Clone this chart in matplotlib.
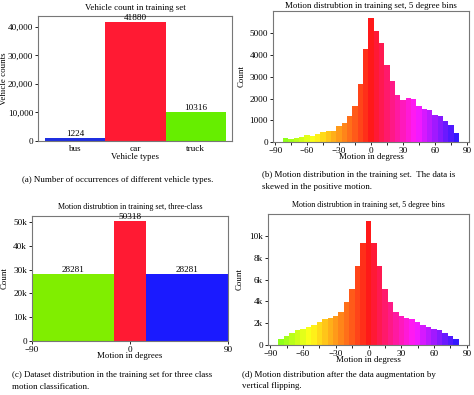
import matplotlib
matplotlib.use("Agg")
import matplotlib.pyplot as plt
import numpy as np
import colorsys

plt.rcParams['font.family'] = ['Liberation Serif', 'DejaVu Serif']

# ---- data ----
vehicle_types = ["bus", "car", "truck"]
vehicle_counts = [1224, 41880, 10316]
vehicle_colors = ["#1f2fe0", "#ff1a33", "#66ee00"]

bin_centers = [-80, -75, -70, -65, -60, -55, -50, -45, -40, -35, -30, -25, -20, -15, -10, -5,
               0, 5, 10, 15, 20, 25, 30, 35, 40, 45, 50, 55, 60, 65, 70, 75, 80]
motion_counts = [200, 140, 200, 230, 320, 290, 350, 450, 490, 490, 720, 880, 1180, 1650, 2650, 4260,
                 5700, 5120, 4540, 3540, 2820, 2180, 1920, 2010, 1970, 1650, 1510, 1490, 1230, 1200, 950, 770, 415]
augmented_counts = [560, 870, 1100, 1350, 1500, 1660, 1810, 2090, 2420, 2450, 2640, 3040, 3900, 5180, 7240, 9390,
                    11400, 9390, 7240, 5180, 3900, 3040, 2640, 2450, 2420, 2090, 1810, 1660, 1500, 1350, 1100, 870, 560]

three_class_edges = [-90, -15, 15, 90]
three_class_counts = [28281, 50318, 28281]
three_class_colors = ["#80ee00", "#ff1a33", "#1a1aff"]

W, H = 474, 395
fig = plt.figure(figsize=(W / 100, H / 100), dpi=100)


def ax_px(x0, y0, x1, y1):
    return fig.add_axes([x0 / W, 1 - y1 / H, (x1 - x0) / W, (y1 - y0) / H])


def angle_color(a):
    if a <= 0:
        h = (-a) * 1.12 / 360.0
    else:
        h = (360 - a * 120 / 85) / 360.0
    return colorsys.hsv_to_rgb(h % 1.0, 0.9, 1.0)


def style(ax):
    for s in ax.spines.values():
        s.set_color("#777777")
        s.set_linewidth(0.8)
    ax.tick_params(labelsize=6.6, length=2, width=0.6, pad=1.5)


TFS = 6.4
CFS = 6.4

# ---- (a) ----
ax = ax_px(38, 16, 232, 141)
x = np.arange(len(vehicle_types))
ax.bar(x, vehicle_counts, width=1.0, color=vehicle_colors)
for xi, v in zip(x, vehicle_counts):
    ax.text(xi, v, str(v), ha="center", va="bottom", fontsize=6.6, linespacing=1)
ax.set_xlim(-0.615, 2.6)
ax.set_ylim(0, 43850)
ax.set_xticks(x)
ax.set_xticklabels(vehicle_types)
ax.set_yticks([0, 10000, 20000, 30000, 40000])
ax.set_yticklabels(["0", "10,000", "20,000", "30,000", "40,000"])
style(ax)
ax.tick_params(axis="x", length=0, pad=3)
ax.set_title("Vehicle count in training set", fontsize=TFS, pad=4.5)
ax.set_ylabel("Vehicle counts", fontsize=TFS, labelpad=0)
ax.set_xlabel("Vehicle types", fontsize=TFS, labelpad=0)
fig.text(118 / W, 1 - 180 / H, "(a) Number of occurrences of different vehicle types.",
         ha="center", va="center", fontsize=CFS)

# ---- (b) ----
ax = ax_px(273, 11, 469, 142)
ax.bar(bin_centers, motion_counts, width=5, color=[angle_color(a) for a in bin_centers])
ax.set_xlim(-92, 92)
ax.set_ylim(0, 6030)
ax.set_xticks([-90, -60, -30, 0, 30, 60, 90])
ax.set_xticks([-75, -45, -15, 15, 45, 75], minor=True)
ax.set_yticks([0, 1000, 2000, 3000, 4000, 5000])
style(ax)
ax.tick_params(which="minor", length=2, width=0.6)
ax.set_title("Motion distrubtion in training set, 5 degree bins", fontsize=TFS, pad=2)
ax.set_ylabel("Count", fontsize=TFS, labelpad=3)
ax.set_xlabel("Motion in degress", fontsize=TFS, labelpad=-1)
fig.text(262 / W, 1 - 175 / H, "(b) Motion distribution in the training set.  The data is",
         ha="left", va="center", fontsize=CFS)
fig.text(262 / W, 1 - 187 / H, "skewed in the positive motion.",
         ha="left", va="center", fontsize=CFS)

# ---- (c) ----
ax = ax_px(32, 216, 228, 341)
lefts = three_class_edges[:-1]
widths = np.diff(three_class_edges)
ax.bar(lefts, three_class_counts, width=widths, align="edge", color=three_class_colors)
for l, w, v in zip(lefts, widths, three_class_counts):
    ax.text(l + w / 2, v, str(v), ha="center", va="bottom", fontsize=6.6)
ax.set_xlim(-90, 90)
ax.set_ylim(0, 52500)
ax.set_xticks([-90, 0, 90])
ax.set_yticks([0, 10000, 20000, 30000, 40000, 50000])
ax.set_yticklabels(["0", "10k", "20k", "30k", "40k", "50k"])
style(ax)
ax.set_title("Motion distrubtion in training set, three-class", fontsize=5.8, pad=5)
ax.set_ylabel("Count", fontsize=TFS, labelpad=3)
ax.set_xlabel("Motion in degrees", fontsize=TFS, labelpad=-1)
fig.text(12 / W, 1 - 375 / H, "(c) Dataset distribution in the training set for three class",
         ha="left", va="center", fontsize=CFS)
fig.text(12 / W, 1 - 387 / H, "motion classification.",
         ha="left", va="center", fontsize=CFS)

# ---- (d) ----
ax = ax_px(268, 214, 469, 345)
ax.bar(bin_centers, augmented_counts, width=5, color=[angle_color(a) for a in bin_centers])
ax.set_xlim(-92, 92)
ax.set_ylim(0, 12020)
ax.set_xticks([-90, -60, -30, 0, 30, 60, 90])
ax.set_xticks([-75, -45, -15, 15, 45, 75], minor=True)
ax.set_yticks([0, 2000, 4000, 6000, 8000, 10000])
ax.set_yticklabels(["0", "2k", "4k", "6k", "8k", "10k"])
style(ax)
ax.tick_params(which="minor", length=2, width=0.6)
ax.set_title("Motion distrubtion in training set, 5 degree bins", fontsize=5.8, pad=5)
ax.set_ylabel("Count", fontsize=TFS, labelpad=4)
ax.set_xlabel("Motion in degress", fontsize=TFS, labelpad=-1)
fig.text(242 / W, 1 - 375 / H, "(d) Motion distribution after the data augmentation by",
         ha="left", va="center", fontsize=CFS)
fig.text(242 / W, 1 - 386 / H, "vertical flipping.",
         ha="left", va="center", fontsize=CFS)

fig.savefig("out.png", dpi=100, facecolor="white")
